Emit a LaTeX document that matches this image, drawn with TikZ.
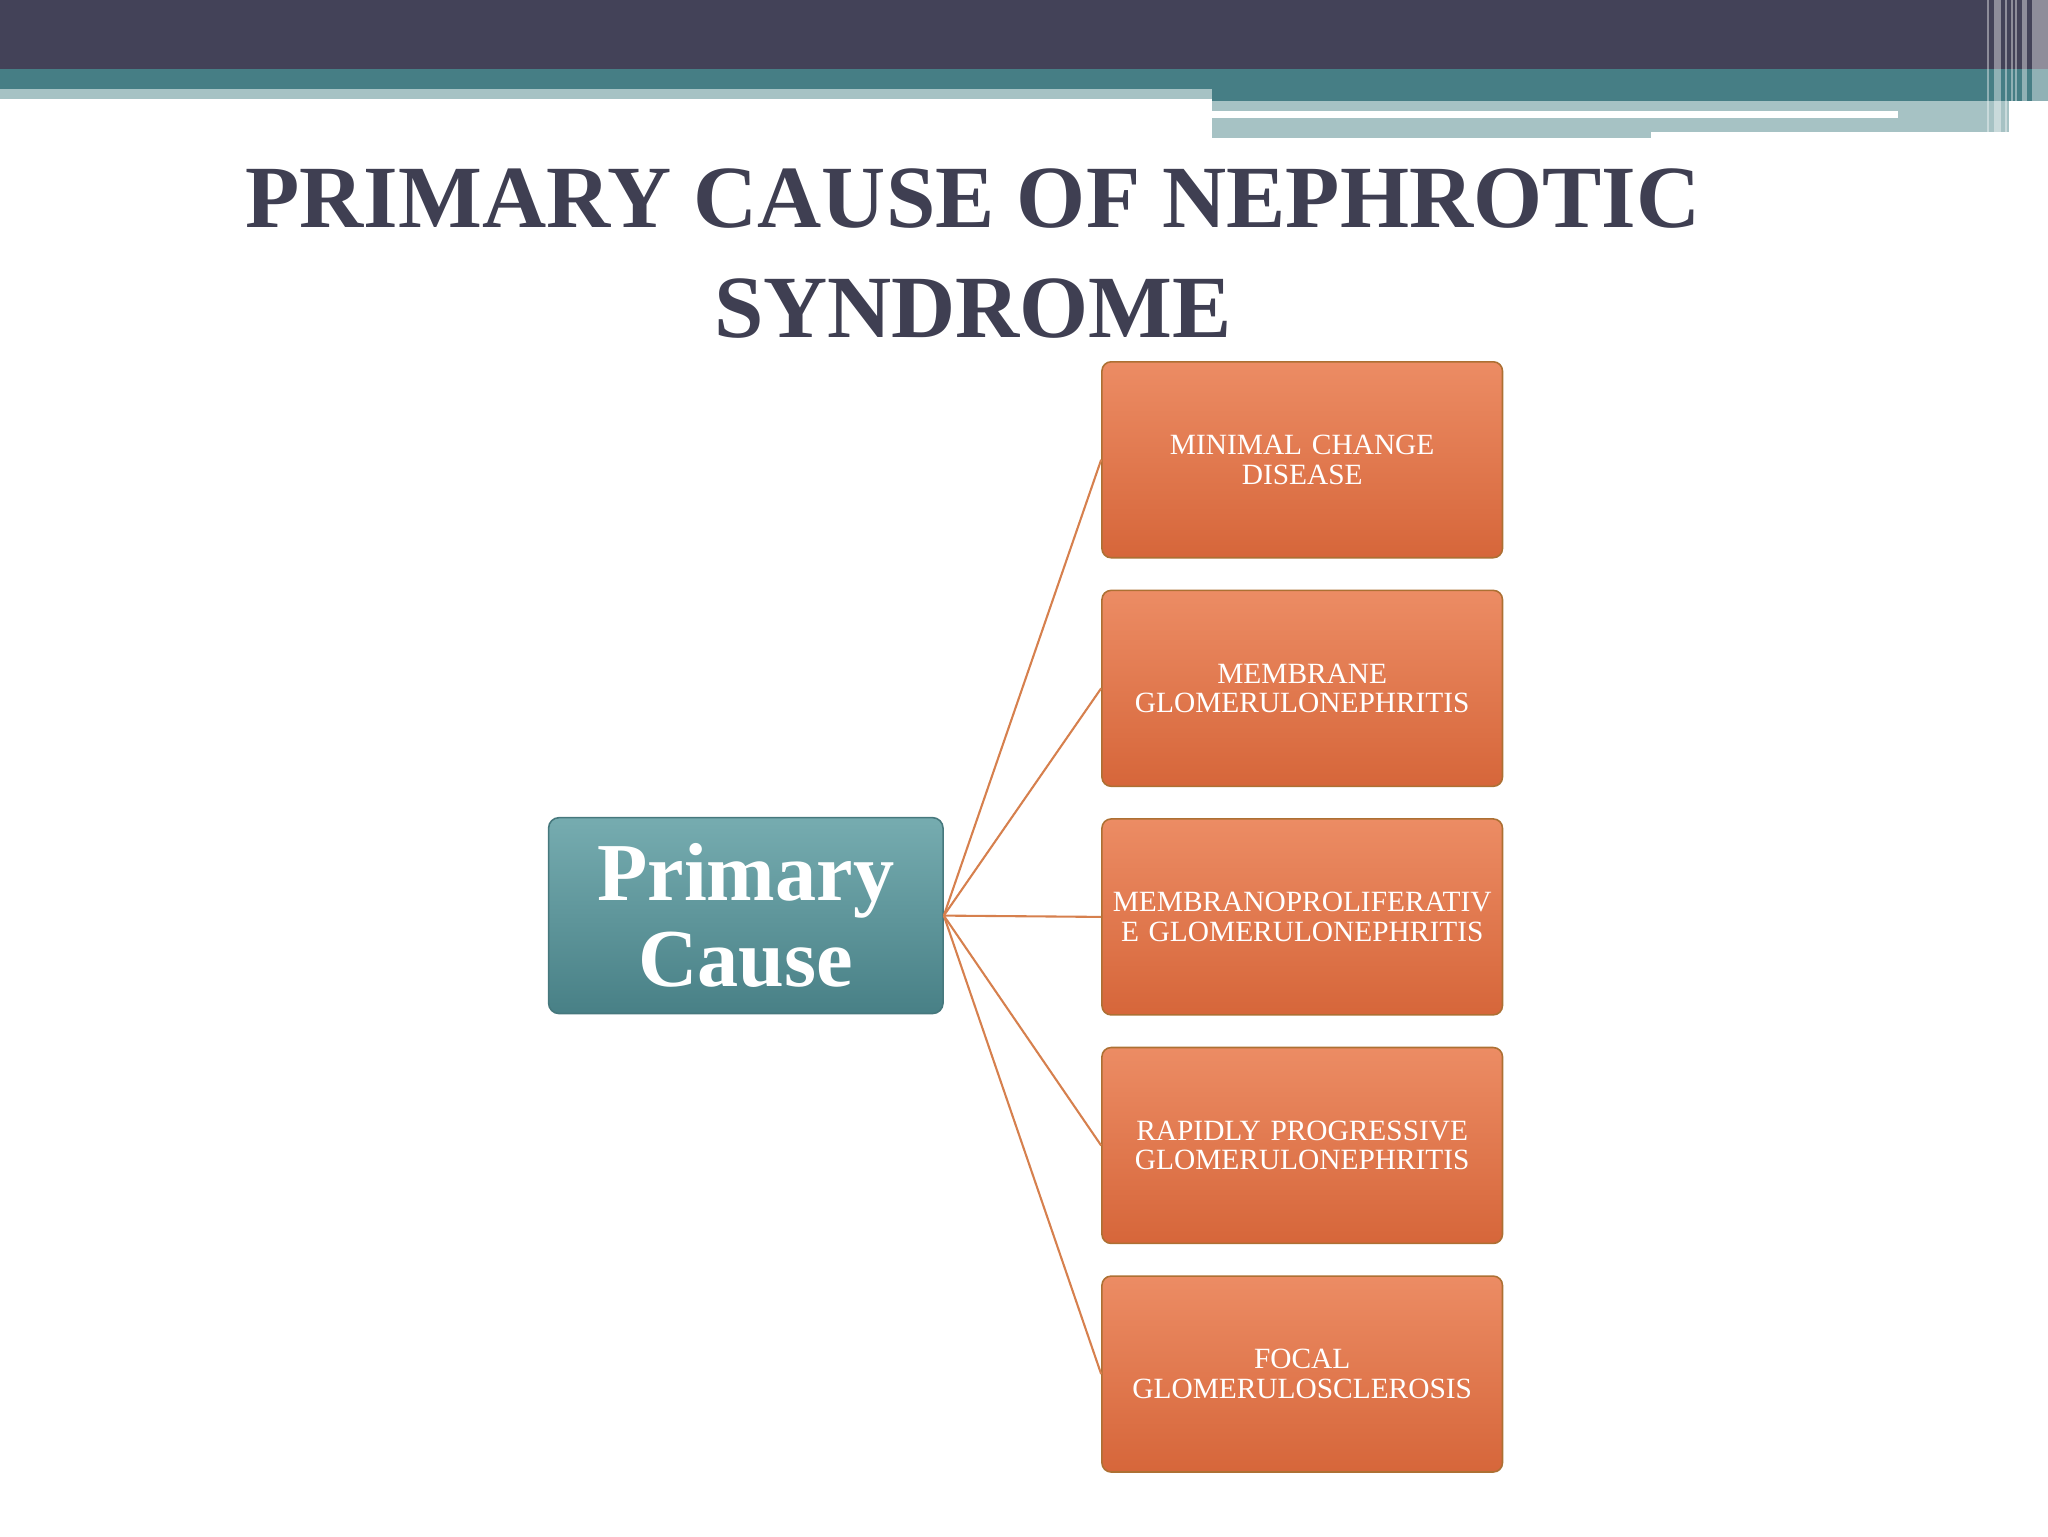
\documentclass[tikz,border=0pt]{standalone}
\usepackage{fontspec}
\setmainfont{Liberation Serif}
\begin{document}
\begin{tikzpicture}[x=1pt,y=-1pt,
  child/.style={draw=orange!60!black!80, line width=1.2pt, rounded corners=7pt, top color={rgb,255:red,236;green,140;blue,100}, bottom color={rgb,255:red,214;green,102;blue,58}, minimum width=302pt, minimum height=150pt, text=white, font=\fontsize{22.5}{22.5}\selectfont, align=center, text width=300pt},
  rootbox/.style={draw={rgb,255:red,70;green,120;blue,125}, line width=1.2pt, rounded corners=8pt, top color={rgb,255:red,118;green,172;blue,176}, bottom color={rgb,255:red,72;green,128;blue,134}, minimum width=302pt, minimum height=150pt, text=white, font=\bfseries\fontsize{63}{66}\selectfont, align=center},
  link/.style={draw={rgb,255:red,214;green,128;blue,78}, line width=1.6pt}]
\useasboundingbox (0,0) rectangle (1568,1176);
\definecolor{dark}{RGB}{67,66,88}
\definecolor{teal}{RGB}{70,126,133}
\definecolor{light}{RGB}{166,194,196}
% header
\fill[dark] (0,0) rectangle (1568,53);
\fill[teal] (0,53) rectangle (1568,68);
\fill[light] (0,68) rectangle (928,76);
\fill[teal] (928,68) rectangle (1568,77);
\fill[light] (928,77) rectangle (1538,106);
\fill[white] (928,85) rectangle (1453,90);
\fill[white] (1264,101) rectangle (1538,106);
\foreach \x/\w in {1521/1.5,1527/5,1535/1.5,1540/1.5,1543/1.2,1548/4,1556/12}{
  \fill[white,opacity=0.4] (\x,0) rectangle ({\x+\w},106);}
% title
\node[text={rgb,255:red,63;green,63;blue,82}, font=\bfseries\fontsize{68}{84}\selectfont, align=center] (title) at (745,194) {PRIMARY CAUSE OF NEPHROTIC\\SYNDROME};
% boxes
\node[rootbox] (root) at (571,701) {Primary\\Cause};
\node[child] (c1) at (997,352) {MINIMAL CHANGE\\DISEASE};
\node[child] (c2) at (997,527) {MEMBRANE\\GLOMERULONEPHRITIS};
\node[child] (c3) at (997,702) {MEMBRANOPROLIFERATIV\\E GLOMERULONEPHRITIS};
\node[child] (c4) at (997,877) {RAPIDLY PROGRESSIVE\\GLOMERULONEPHRITIS};
\node[child] (c5) at (997,1052) {FOCAL\\GLOMERULOSCLEROSIS};
\foreach \c in {c1,c2,c3,c4,c5}{\draw[link] (root.east) -- (\c.west);}
\end{tikzpicture}
\end{document}
